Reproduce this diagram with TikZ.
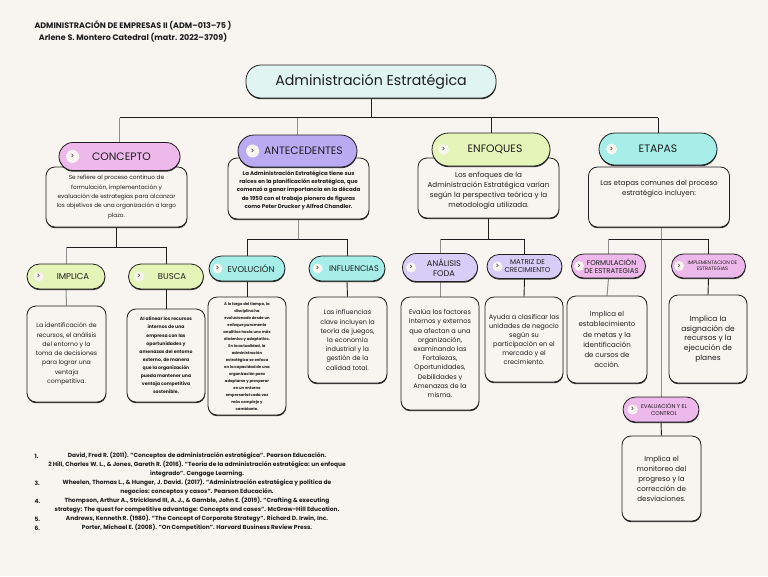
\documentclass[tikz,border=0pt]{standalone}
\usepackage{fontspec}
\setmainfont{Poppins}
\usetikzlibrary{shapes.misc, shadows}

\definecolor{paper}{HTML}{F8F4EF}
\definecolor{ink}{HTML}{1E1E1E}
\definecolor{gris}{HTML}{8E8E8E}
\definecolor{titlefill}{HTML}{E0F5F2}
\definecolor{rosa}{HTML}{EDB8EA}
\definecolor{lila}{HTML}{B9AAF2}
\definecolor{lilaclaro}{HTML}{D8CDF6}
\definecolor{verde}{HTML}{E5F4B8}
\definecolor{turq}{HTML}{A6EEE7}

\pgfdeclarelayer{bg}
\pgfsetlayers{bg,main}

\begin{document}
\begin{tikzpicture}[x=1pt, y=-1pt,
  pill/.style={rounded rectangle, draw=ink, line width=0.8pt, fill=#1, text=ink, align=center, inner sep=0pt,
    drop shadow={shadow xshift=0.2pt, shadow yshift=-1.2pt, opacity=0.9, fill=ink}},
  box/.style={draw=ink, line width=0.8pt, rounded corners=9pt, fill=paper, text=ink, align=center, inner sep=0pt,
    drop shadow={shadow xshift=0.2pt, shadow yshift=-1.2pt, opacity=0.9, fill=ink}},
  chev/.style={circle, fill=paper, inner sep=0pt, minimum size=#1, text=ink, font=\fontsize{7}{7}\selectfont},
  link/.style={draw=ink, line width=0.9pt},
  glink/.style={draw=gris, line width=1pt}]

  \useasboundingbox (0,0) rectangle (768,576);

  % header
  \node[font=\bfseries\fontsize{8}{12}\selectfont, align=center, text=ink] (encabezado) at (133,31)
    {ADMINISTRACIÓN DE EMPRESAS II (ADM--013--75 )\\Arlene S. Montero Catedral (matr. 2022--3709)};

  \node[box, fill=titlefill, rounded corners=15pt, minimum width=250pt, minimum height=33pt, font=\fontsize{14.2}{16}\selectfont] (titulo) at (371,81.5) {Administración Estratégica};

  % text boxes first, pills on top
  \node[box, minimum width=141pt, minimum height=60pt, font=\fontsize{5.8}{9.3}\selectfont] (concepto-txt) at (116.5,197)
    {Se refiere al proceso continuo de\\formulación, implementación y\\evaluación de estrategias para alcanzar\\los objetivos de una organización a largo\\plazo.};
  \node[box, minimum width=141pt, minimum height=61pt, font=\bfseries\fontsize{5.5}{8.4}\selectfont] (antec-txt) at (298.5,188.5)
    {~\\La Administración Estratégica tiene sus\\raíces en la planificación estratégica, que\\comenzó a ganar importancia en la década\\de 1950 con el trabajo pionero de figuras\\como Peter Drucker y Alfred Chandler.};
  \node[box, minimum width=141pt, minimum height=60pt, font=\fontsize{7.2}{10}\selectfont] (enfoq-txt) at (488.5,188)
    {~\\Los enfoques de la\\Administración Estratégica varían\\según la perspectiva teórica y la\\metodología utilizada.};
  \node[box, minimum width=141pt, minimum height=60pt, font=\fontsize{7.1}{10}\selectfont] (etapas-txt) at (659,197)
    {Las etapas comunes del proceso\\estratégico incluyen:\\[8pt]~};

  \node[box, minimum width=79pt, minimum height=96pt, font=\fontsize{6.2}{9.3}\selectfont] (implica-txt) at (66.5,354)
    {La identificación de\\recursos, el análisis\\del entorno y la\\toma de decisiones\\para lograr una\\ventaja\\competitiva.};
  \node[box, minimum width=78pt, minimum height=93pt, font=\bfseries\fontsize{4.6}{8.1}\selectfont] (busca-txt) at (166,355.5)
    {Al alinear los recursos\\internos de una\\empresa con las\\oportunidades y\\amenazas del entorno\\externo, de manera\\que la organización\\pueda mantener una\\ventaja competitiva\\sostenible.};
  \node[box, minimum width=78pt, minimum height=118pt, font=\bfseries\fontsize{3.8}{7}\selectfont] (evol-txt) at (247,356)
    {A lo largo del tiempo, la\\disciplina ha\\evolucionado desde un\\enfoque puramente\\analítico hacia uno más\\dinámico y adaptativo.\\En la actualidad, la\\administración\\estratégica se enfoca\\en la capacidad de una\\organización para\\adaptarse y prosperar\\en un entorno\\empresarial cada vez\\más complejo y\\cambiante.};
  \node[box, minimum width=79pt, minimum height=86pt, font=\fontsize{6.5}{9.2}\selectfont] (influ-txt) at (347.5,340)
    {Las influencias\\clave incluyen la\\teoría de juegos,\\la economía\\industrial y la\\gestión de la\\calidad total.};
  \node[box, minimum width=78pt, minimum height=113pt, font=\fontsize{6.6}{9.2}\selectfont] (foda-txt) at (440,353.5)
    {Evalúa los factores\\internos y externos\\que afectan a una\\organización,\\examinando las\\Fortalezas,\\Oportunidades,\\Debilidades y\\Amenazas de la\\misma.};
  \node[box, minimum width=78pt, minimum height=85pt, font=\fontsize{6.6}{9}\selectfont] (matriz-txt) at (524,339.5)
    {Ayuda a clasificar las\\unidades de negocio\\según su\\participación en el\\mercado y el\\crecimiento.};
  \node[box, minimum width=80pt, minimum height=87pt, font=\fontsize{7}{10.2}\selectfont] (formul-txt) at (607,339.5)
    {Implica el\\establecimiento\\de metas y la\\identificación\\de cursos de\\acción.};
  \node[box, minimum width=78pt, minimum height=88pt, font=\fontsize{7.5}{9.8}\selectfont] (implem-txt) at (708,339)
    {Implica la\\asignación de\\recursos y la\\ejecución de\\planes};
  \node[box, minimum width=79pt, minimum height=85pt, font=\fontsize{7.1}{10}\selectfont] (evalua-txt) at (661.5,478.5)
    {Implica el\\monitoreo del\\progreso y la\\corrección de\\desviaciones.};

  % main branches
  \node[pill=rosa, minimum width=121pt, minimum height=28pt, font=\fontsize{10.8}{12}\selectfont] (concepto) at (119.5,156.5) {\hspace*{4pt}CONCEPTO};
  \node[pill=lila, minimum width=119pt, minimum height=32pt, font=\fontsize{10.8}{12}\selectfont] (antec) at (297.5,151) {\hspace*{12pt}ANTECEDENTES};
  \node[pill=verde, minimum width=118pt, minimum height=33pt, font=\fontsize{10.8}{12}\selectfont] (enfoq) at (491,149.5) {\hspace*{8pt}ENFOQUES};
  \node[pill=turq, minimum width=118pt, minimum height=32pt, font=\fontsize{10.8}{12}\selectfont] (etapas) at (658,149) {ETAPAS};

  % sub branches
  \node[pill=verde, minimum width=78pt, minimum height=25pt, font=\fontsize{8.5}{9}\selectfont] (implica) at (66,276.5) {\hspace*{14pt}IMPLICA};
  \node[pill=verde, minimum width=75pt, minimum height=25pt, font=\fontsize{8.5}{9}\selectfont] (busca) at (166,276.5) {\hspace*{12pt}BUSCA};
  \node[pill=turq, minimum width=76pt, minimum height=25pt, font=\fontsize{8.4}{9}\selectfont] (evol) at (247,268.5) {\hspace*{8pt}EVOLUCIÓN};
  \node[pill=turq, minimum width=76pt, minimum height=25pt, font=\fontsize{8.2}{9}\selectfont] (influ) at (347,268.5) {\hspace*{14pt}INFLUENCIAS};
  \node[pill=lilaclaro, minimum width=75pt, minimum height=28pt, font=\fontsize{8.2}{10.5}\selectfont] (foda) at (440,267.5) {\hspace*{8pt}ANÁLISIS\\\hspace*{8pt}FODA};
  \node[pill=lilaclaro, minimum width=75pt, minimum height=24pt, font=\fontsize{7}{8}\selectfont] (matriz) at (524.5,266.5) {\hspace*{6pt}MATRIZ DE\\\hspace*{6pt}CRECIMIENTO};
  \node[pill=rosa, minimum width=74pt, minimum height=24pt, font=\fontsize{7}{8}\selectfont] (formul) at (608.5,266) {\hspace*{6pt}FORMULACIÓN\\\hspace*{6pt}DE ESTRATEGIAS};
  \node[pill=rosa, minimum width=74pt, minimum height=24pt, font=\fontsize{5}{6.4}\selectfont] (implem) at (708.5,266) {\hspace*{8pt}IMPLEMENTACION DE\\\hspace*{8pt}ESTRATEGIAS};
  \node[pill=rosa, minimum width=76pt, minimum height=25pt, font=\fontsize{5.6}{7}\selectfont] (evalua) at (661,409.5) {\hspace*{6pt}EVALUACIÓN Y EL\\\hspace*{6pt}CONTROL};

  % chevrons
  \node[chev=13pt] (concepto-ic) at ([xshift=14pt]concepto.west) {>};
  \node[chev=13pt] (antec-ic) at ([xshift=15pt]antec.west) {>};
  \node[chev=11pt] (enfoq-ic) at ([xshift=12pt]enfoq.west) {>};
  \node[chev=11pt] (etapas-ic) at ([xshift=13pt]etapas.west) {>};
  \node[chev=10pt] (implica-ic) at ([xshift=12pt]implica.west) {>};
  \node[chev=10pt] (busca-ic) at ([xshift=11pt]busca.west) {>};
  \node[chev=10pt] (evol-ic) at ([xshift=9pt]evol.west) {>};
  \node[chev=10pt] (influ-ic) at ([xshift=9pt]influ.west) {>};
  \node[chev=10pt] (foda-ic) at ([xshift=9pt]foda.west) {>};
  \node[chev=10pt] (matriz-ic) at ([xshift=11pt]matriz.west) {>};
  \node[chev=10pt] (formul-ic) at ([xshift=8pt]formul.west) {>};
  \node[chev=10pt] (implem-ic) at ([xshift=8pt]implem.west) {>};
  \node[chev=10pt] (evalua-ic) at ([xshift=10pt]evalua.west) {>};

  % references
  \node[font=\bfseries\fontsize{5.9}{9}\selectfont, align=center, text=ink] (biblio) at (197,492)
    {David, Fred R. (2011). "Conceptos de administración estratégica". Pearson Educación.\\
     2 Hill, Charles W. L., \& Jones, Gareth R. (2016). "Teoría de la administración estratégica: un enfoque\\
     integrado". Cengage Learning.\\
     Wheelen, Thomas L., \& Hunger, J. David. (2017). "Administración estratégica y política de\\
     negocios: conceptos y casos". Pearson Educación.\\
     Thompson, Arthur A., Strickland III, A. J., \& Gamble, John E. (2019). "Crafting \& executing\\
     strategy: The quest for competitive advantage: Concepts and cases". McGraw-Hill Education.\\
     Andrews, Kenneth R. (1980). "The Concept of Corporate Strategy". Richard D. Irwin, Inc.\\
     Porter, Michael E. (2008). "On Competition". Harvard Business Review Press.};
  \node[font=\bfseries\fontsize{5.9}{9}\selectfont, align=left, text=ink, anchor=west] (biblio-num) at (31,492)
    {1.\\~\\~\\3.\\~\\4.\\~\\5.\\6.};

  % connectors, under everything
  \begin{pgfonlayer}{bg}
    \fill[paper] (0,0) rectangle (768,576);
    \coordinate (hub) at (371,117.5);
    \coordinate (cbar) at (117,247);
    \coordinate (abar) at (298,239);
    \coordinate (fbar) at (491,239);
    \coordinate (ebar) at (660,239);
    \draw[link] (titulo.south) -- (hub);
    \draw[link] (hub -| concepto.north) -- (hub -| etapas.north);
    \draw[glink] (hub -| concepto.north) -- (concepto.north);
    \draw[glink] (hub -| antec.north) -- (antec.north);
    \draw[link] (hub -| enfoq.north) -- (enfoq.north);
    \draw[link] (hub -| etapas.north) -- (etapas.north);

    \draw[link] (concepto-txt.south) -- (concepto-txt.south |- cbar);
    \draw[link] (cbar -| implica.north) -- (cbar -| busca.north);
    \draw[glink] (cbar -| implica.north) -- (implica.north);
    \draw[glink] (implica.south) -- (implica-txt.north);
    \draw[link] (cbar -| busca.north) -- (busca.north);
    \draw[link] (busca.south) -- (busca-txt.north);

    \draw[glink] (antec-txt.south) -- (antec-txt.south |- abar);
    \draw[link] (abar -| evol.north) -- (abar -| influ.north);
    \draw[link] (abar -| evol.north) -- (evol.north);
    \draw[link] (evol.south) -- (evol-txt.north);
    \draw[link] (abar -| influ.north) -- (influ.north);
    \draw[link] (influ.south) -- (influ-txt.north);

    \draw[link] (enfoq-txt.south) -- (enfoq-txt.south |- fbar);
    \draw[link] (fbar -| foda.north) -- (fbar -| matriz.north);
    \draw[glink] (fbar -| foda.north) -- (foda.north);
    \draw[glink] (foda.south) -- (foda-txt.north);
    \draw[link] (fbar -| matriz.north) -- (matriz.north);
    \draw[link] (matriz.south) -- (matriz-txt.north);

    \draw[glink] (evalua.north |- etapas-txt.south) -- (evalua.north);
    \draw[link] (ebar -| formul.north) -- (ebar -| implem.north);
    \draw[glink] (ebar -| formul.north) -- (formul.north);
    \draw[glink] (formul.south) -- (formul-txt.north);
    \draw[link] (ebar -| implem.north) -- (implem.north);
    \draw[link] (implem.south) -- (implem-txt.north);
    \draw[link] (evalua.south) -- (evalua-txt.north);
  \end{pgfonlayer}
\end{tikzpicture}
\end{document}
